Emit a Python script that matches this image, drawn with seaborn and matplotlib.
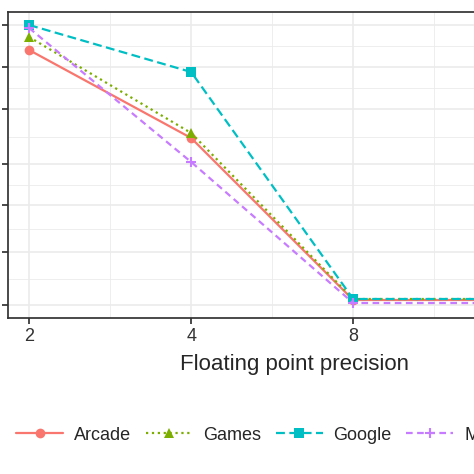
import numpy as np
import pandas as pd
import seaborn as sns
from matplotlib import pyplot as plt
from matplotlib.lines import Line2D

precision = [2, 4, 8, 16]
arcade = [268, 180, 18, 18]
games = [281, 185, 19, 19]
google = [293, 246, 19, 19]
movies = [290, 156, 15, 15]
names = ['Arcade', 'Games', 'Google', 'Movies']
colors = ['#F8766D', '#7CAE00', '#00BFC4', '#C77CFF']
dashes = ['-', ':', (0, (4, 2)), (0, (3, 2))]
markers = ['o', '^', 's', '+']
yticks = [13, 66, 113, 154, 209, 251, 293]

sns.set_theme(style='white')
plt.rcParams['font.family'] = ['Liberation Sans', 'DejaVu Sans']

fig = plt.figure(figsize=(4.74, 4.74), dpi=100)
ax = fig.add_axes([8 / 474, 1 - 318 / 474, 1.207, 306 / 474])

x = np.log2(precision)
for name, vals, c, ls, m in zip(names, [arcade, games, google, movies], colors, dashes, markers):
    df = pd.DataFrame({'x': x, 'y': vals})
    sns.lineplot(data=df, x='x', y='y', ax=ax, color=c, linestyle=ls, marker=m,
                 markersize=7, markeredgewidth=1.5 if m == '+' else 0,
                 markeredgecolor=c, linewidth=1.6)

ax.set_xlim(0.87, 4.4)
ax.set_ylim(0, 306)
ax.set_xticks([1, 2, 3, 4])
ax.set_xticklabels(['2', '4', '8', '16'], fontsize=13, color='#333333')
ax.set_xticks([1.5, 2.5, 3.5], minor=True)
ax.set_yticks(yticks)
ax.set_yticklabels([])
ax.set_yticks([(a + b) / 2 for a, b in zip(yticks[:-1], yticks[1:])], minor=True)
ax.grid(which='major', color='#EBEBEB', linewidth=1.2)
ax.grid(which='minor', color='#EBEBEB', linewidth=0.6)
ax.tick_params(which='major', length=4, color='#333333', left=True, bottom=True)
ax.tick_params(which='minor', length=0)
for s in ax.spines.values():
    s.set_color('#333333')
ax.set_ylabel('')
ax.set_xlabel('Floating point precision', fontsize=16, labelpad=6)

handles = [Line2D([], [], color=c, linestyle=ls, marker=m, markersize=7,
                  markeredgewidth=1.5 if m == '+' else 0, markeredgecolor=c, linewidth=1.6)
           for c, ls, m in zip(colors, dashes, markers)]
fig.legend(handles, names, loc='lower left', bbox_to_anchor=(0.0, 0.03), ncol=4,
           frameon=False, fontsize=13, columnspacing=0.8, handlelength=2.6, handletextpad=0.6)

fig.savefig('out.png', dpi=100)
